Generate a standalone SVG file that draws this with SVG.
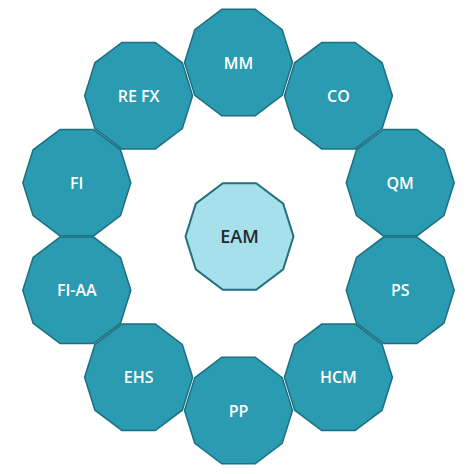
<svg xmlns="http://www.w3.org/2000/svg" xmlns:xlink="http://www.w3.org/1999/xlink" width="474" height="474" viewBox="0 0 474 474">
<style>
.outer{fill:#2a9bb1;stroke:#1b6f80;stroke-width:1.5}
.center{fill:#a6e0eb;stroke:#236f7e;stroke-width:2}
.lbl{font-family:"Open Sans","Noto Sans",sans-serif;font-size:16px;font-weight:600;fill:#ffffff;text-anchor:middle}
.clbl{font-family:"Open Sans","Noto Sans",sans-serif;font-size:18px;font-weight:600;fill:#1e2a2e;text-anchor:middle}
</style>
<defs>
<polygon id="dec" points="54,0 43.69,32.92 16.69,53.26 -16.69,53.26 -43.69,32.92 -54,0 -43.69,-32.92 -16.69,-53.26 16.69,-53.26 43.69,-32.92"/>
</defs>
<rect width="474" height="474" fill="#ffffff"/>
<g id="connectors"/>
<g id="node-MM" transform="translate(238.5,62.5)"><use xlink:href="#dec" href="#dec" class="outer"/><text class="lbl" y="6">MM</text></g>
<g id="node-CO" transform="translate(338.4,95.7)"><use xlink:href="#dec" href="#dec" class="outer"/><text class="lbl" y="6">CO</text></g>
<g id="node-QM" transform="translate(400.2,182.7)"><use xlink:href="#dec" href="#dec" class="outer"/><text class="lbl" y="6">QM</text></g>
<g id="node-PS" transform="translate(400.2,290.3)"><use xlink:href="#dec" href="#dec" class="outer"/><text class="lbl" y="6">PS</text></g>
<g id="node-HCM" transform="translate(338.4,377.3)"><use xlink:href="#dec" href="#dec" class="outer"/><text class="lbl" y="6">HCM</text></g>
<g id="node-EHS" transform="translate(138.6,377.3)"><use xlink:href="#dec" href="#dec" class="outer"/><text class="lbl" y="6">EHS</text></g>
<g id="node-PP" transform="translate(238.5,410.5)"><use xlink:href="#dec" href="#dec" class="outer"/><text class="lbl" y="6">PP</text></g>
<g id="node-FI-AA" transform="translate(76.8,290.3)"><use xlink:href="#dec" href="#dec" class="outer"/><text class="lbl" y="6">FI-AA</text></g>
<g id="node-FI" transform="translate(76.8,182.7)"><use xlink:href="#dec" href="#dec" class="outer"/><text class="lbl" y="6">FI</text></g>
<g id="node-REFX" transform="translate(138.6,95.7)"><use xlink:href="#dec" href="#dec" class="outer"/><text class="lbl" y="6">RE FX</text></g>
<g id="node-EAM" transform="translate(239.5,236.5)"><use xlink:href="#dec" href="#dec" class="center"/><text class="clbl" y="6.5">EAM</text></g>
</svg>
